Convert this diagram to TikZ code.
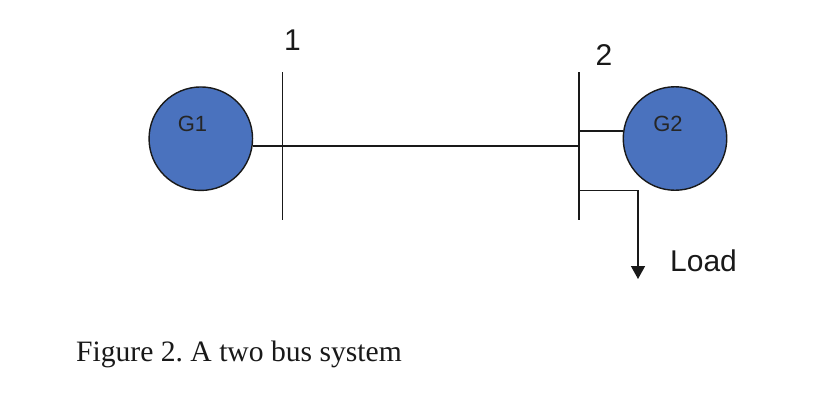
\documentclass[tikz,border=0pt]{standalone}
\usepackage{fontspec}
\setmainfont{Liberation Sans}
\newfontfamily\capfont{Liberation Serif}
\usetikzlibrary{arrows.meta}
\begin{document}
\begin{tikzpicture}[x=1pt,y=-1pt,
  gen/.style={circle,draw=black!90,fill=genblue,line width=1.4pt,minimum size=103.5pt,inner sep=0pt},
  gentext/.style={inner sep=0pt,font=\fontsize{22}{26}\selectfont,text=black!85},
  wire/.style={draw=black!90,line width=1.4pt},
  lbl/.style={inner sep=0pt,font=\fontsize{30}{34}\selectfont,text=black!90}]
\definecolor{genblue}{HTML}{4A72BE}
\useasboundingbox[fill=white] (0,0) rectangle (816,410);
\node[gen] (g1) at (200.8,138.7) {};
\node[gentext] (g1t) at (192.5,124) {G1};
\node[gen] (g2) at (675,138.5) {};
\node[gentext] (g2t) at (668,124) {G2};
\coordinate (b1t) at (282.5,72);
\coordinate (b1b) at (282.5,220);
\coordinate (b2t) at (579,72);
\coordinate (b2b) at (579,220);
\draw[wire] (b1t) -- (b1b);
\draw[wire] (b2t) -- (b2b);
\coordinate (j1) at (579,146);
\draw[wire] (g1.east |- j1) -- (j1);
\coordinate (j2) at (579,131);
\draw[wire] (j2) -- (g2.west |- j2);
\coordinate (j3) at (579,190.5);
\coordinate (c3) at (638,190.5);
\coordinate (e3) at (638,279);
\draw[wire,-{Triangle[length=13pt,width=14pt]}] (j3) -- (c3) -- (e3);
\node[lbl] (n1) at (292.5,40) {1};
\node[lbl] (n2) at (604,55) {2};
\node[lbl] (load) at (703.5,261) {Load};
\node[inner sep=0pt,anchor=west,font=\capfont\fontsize{29.6}{34}\selectfont,text=black!90] (cap) at (76,354.5) {\frenchspacing Figure 2. A two bus system};
\end{tikzpicture}
\end{document}
